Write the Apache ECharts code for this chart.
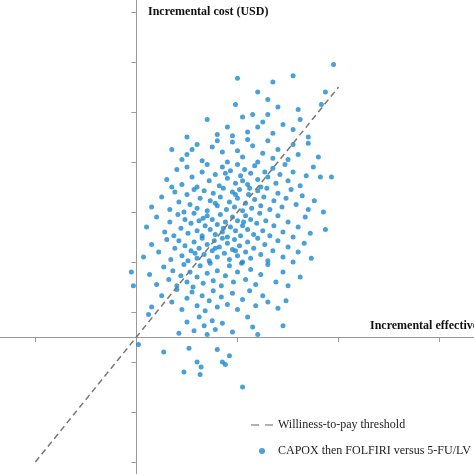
<!DOCTYPE html>
<html>
<head>
<meta charset="UTF-8">
<script src="https://cdn.jsdelivr.net/npm/echarts@6/dist/echarts.min.js"></script>
<style>html,body{margin:0;padding:0;background:#fff}#main{width:474px;height:474px}</style>
</head>
<body>
<div id="main"></div>
<script>
// tick labels
var xTicks = [-1, 0, 1, 2, 3];
var yTicks = [-5000, -3000, -1000, 1000, 3000, 5000, 7000, 9000, 11000, 13000];
// willingness-to-pay line (5000 USD per unit)
var wtpLine = [[-1, -5000], [2, 10000]];
// simulation points [incremental effect, incremental cost]
var simPoints = [
 [1.0,10350],[1.55,10450],[1.95,10900],[1.35,10200],[1.2,9800],[1.87,9800],[0.98,9300],[1.4,9200],[1.3,9500],[1.6,9100],[1.83,9300],
 [0.7,8700],[1.05,8800],[1.15,8900],[0.9,8400],[1.25,8600],[1.45,8500],[1.55,8300],[1.62,8700],[0.8,8100],[1.1,8200],[1.35,8150],[1.7,8000],[0.5,8000],[0.95,8050],[1.3,8900],[1.2,8400],
 [0.35,7500],[0.5,7300],[0.6,7700],[0.75,7600],[0.85,7400],[0.95,7800],[1.05,7200],[1.15,7650],[1.25,7350],[1.3,7850],[1.4,7500],[1.5,7100],[1.6,7300],[1.7,7750],[1.8,7200],[0.65,7050],[0.45,7100],[1.0,7450],[1.2,7000],[0.9,7000],[1.35,7150],[1.55,7700],[1.1,7900],[0.8,7850],[0.55,7500],
 [0.3,6300],[0.4,6700],[0.45,6100],[0.5,6800],[0.55,6400],[0.6,6000],[0.65,6600],[0.7,6900],[0.72,6250],[0.78,6500],[0.82,6050],[0.85,6800],[0.9,6350],[0.93,6650],[0.98,6150],[1.0,6900],[1.03,6450],[1.07,6700],[1.1,6100],[1.13,6550],[1.17,6850],[1.2,6300],[1.23,6000],[1.27,6600],[1.3,6400],[1.35,6750],[1.38,6150],[1.42,6500],[1.47,6900],[1.5,6250],[1.55,6600],[1.62,6050],[1.68,6450],[1.75,6800],[1.82,6400],[1.93,6400],[0.35,6000],[0.88,6550],[1.05,6250],
 [0.15,5200],[0.25,5600],[0.33,5100],[0.38,5800],[0.42,5400],[0.47,5000],[0.5,5700],[0.53,5300],[0.57,5900],[0.6,5150],[0.63,5550],[0.67,5850],[0.7,5050],[0.73,5450],[0.76,5750],[0.8,5250],[0.83,5600],[0.86,5950],[0.89,5100],[0.92,5400],[0.95,5800],[0.97,5200],[1.0,5550],[1.02,5900],[1.05,5050],[1.08,5350],[1.11,5700],[1.14,5150],[1.17,5500],[1.2,5850],[1.23,5250],[1.26,5600],[1.29,5950],[1.32,5100],[1.36,5450],[1.4,5750],[1.44,5200],[1.48,5550],[1.53,5900],[1.58,5300],[1.64,5650],[1.7,5100],[1.76,5450],[1.85,5000],[0.78,5350],[0.98,5700],[1.12,5950],
 [0.1,4400],[0.2,4800],[0.28,4200],[0.33,4600],[0.37,4050],[0.41,4900],[0.44,4350],[0.48,4700],[0.51,4150],[0.54,4550],[0.57,4950],[0.6,4250],[0.62,4650],[0.65,4050],[0.68,4450],[0.7,4850],[0.73,4300],[0.75,4700],[0.78,4100],[0.8,4500],[0.83,4900],[0.85,4200],[0.88,4600],[0.9,4000],[0.93,4400],[0.95,4800],[0.98,4250],[1.0,4650],[1.03,4050],[1.05,4450],[1.08,4850],[1.1,4300],[1.13,4700],[1.16,4100],[1.19,4550],[1.22,4950],[1.25,4250],[1.28,4650],[1.32,4050],[1.36,4450],[1.4,4850],[1.45,4200],[1.5,4600],[1.55,4000],[1.6,4400],[1.67,4800],[1.72,4150],[1.87,4300],[0.66,4750],[0.86,4350],[1.06,4600],
 [0.07,3200],[0.15,3700],[0.22,3400],[0.3,3900],[0.34,3100],[0.38,3550],[0.42,3850],[0.45,3250],[0.48,3650],[0.51,3050],[0.54,3450],[0.57,3800],[0.6,3150],[0.62,3550],[0.65,3950],[0.67,3300],[0.7,3700],[0.72,3050],[0.75,3450],[0.77,3850],[0.8,3200],[0.82,3600],[0.85,3950],[0.87,3350],[0.9,3750],[0.92,3100],[0.95,3500],[0.97,3900],[1.0,3250],[1.02,3650],[1.05,3000],[1.08,3400],[1.1,3800],[1.13,3150],[1.16,3550],[1.2,3950],[1.23,3300],[1.27,3700],[1.3,3050],[1.35,3450],[1.4,3850],[1.45,3200],[1.5,3600],[1.55,3000],[1.6,3400],[1.66,3750],[1.73,3150],[0.58,3350],[0.78,3550],[0.98,3450],
 [-0.05,2600],[-0.03,2050],[0.13,2500],[0.2,2100],[0.27,2800],[0.32,2300],[0.36,2650],[0.4,2050],[0.44,2450],[0.47,2900],[0.5,2200],[0.53,2600],[0.56,2000],[0.6,2400],[0.63,2850],[0.66,2150],[0.7,2550],[0.73,2950],[0.76,2250],[0.8,2650],[0.84,2050],[0.88,2450],[0.92,2850],[0.96,2200],[1.0,2600],[1.04,2950],[1.08,2300],[1.13,2700],[1.18,2100],[1.23,2500],[1.3,2900],[1.38,2200],[1.45,2600],[1.5,2050],[1.62,2400],
 [0.15,1200],[0.25,1650],[0.35,1400],[0.4,1900],[0.45,1100],[0.5,1550],[0.55,1800],[0.6,1250],[0.65,1650],[0.68,1050],[0.72,1450],[0.76,1850],[0.8,1200],[0.84,1600],[0.9,1300],[0.95,1750],[1.0,1100],[1.05,1500],[1.12,1850],[1.18,1250],[1.25,1650],[1.3,1400],[1.4,1150],[1.48,1450],
 [0.12,900],[0.42,150],[0.5,600],[0.57,250],[0.62,800],[0.67,450],[0.7,100],[0.75,650],[0.78,300],[0.85,550],[0.95,200],[1.1,800],[1.2,100],[1.45,450],[1.15,400],
 [0.02,-300],[0.27,-600],[0.52,-450],[0.8,-500],[0.85,-1000],[0.88,-1100],[0.92,-750],[0.6,-1000],[0.47,-1400],[0.64,-1200],[0.63,-1500],[1.05,-2000]
];

var font = '"Liberation Serif", "Times New Roman", serif';
var chart = echarts.init(document.getElementById('main'));
var option = {
  animation: false,
  textStyle: {fontFamily: font},
  grid: {left: 0, right: 0, top: 0, bottom: 0, outerBoundsMode: 'none', containLabel: false},
  xAxis: {
    type: 'value', min: -1.35, max: 3.34,
    splitLine: {show: false},
    axisLine: {onZero: true, lineStyle: {color: '#999'}},
    axisTick: {show: true, customValues: xTicks, length: 5, lineStyle: {color: '#999'}},
    axisLabel: {customValues: xTicks, color: '#222', fontSize: 11, fontFamily: font, margin: 8,
      formatter: function (v) { return v === 0 ? '0   ' : String(v); }}
  },
  yAxis: {
    type: 'value', min: -5480, max: 13480,
    splitLine: {show: false},
    axisLine: {onZero: true, lineStyle: {color: '#999'}},
    axisTick: {show: true, customValues: yTicks, length: 5, lineStyle: {color: '#999'}},
    axisLabel: {customValues: yTicks, color: '#222', fontSize: 11, fontFamily: font, margin: 8,
      formatter: function (v) { return Math.abs(v) >= 10000 ? v.toLocaleString('en-US') : String(v); }}
  },
  legend: {
    orient: 'vertical', left: 246, top: 414, itemGap: 14, itemWidth: 22, itemHeight: 6,
    textStyle: {fontFamily: font, fontSize: 12, color: '#222'},
    data: [
      {name: 'Williness-to-pay threshold', icon: 'path://M0,4H8V5H0ZM14,4H22V5H14Z', itemStyle: {color: '#666'}},
      {name: 'CAPOX then FOLFIRI versus 5-FU/LV', icon: 'circle'}
    ]
  },
  graphic: [
    {type: 'text', left: 148, top: 6, style: {text: 'Incremental cost (USD)', font: 'bold 12px ' + font, fill: '#111'}},
    {type: 'text', left: 370, top: 320, style: {text: 'Incremental effectiveness (LYG)', font: 'bold 12px ' + font, fill: '#111'}}
  ],
  series: [
    {name: 'Williness-to-pay threshold', type: 'line', data: wtpLine, showSymbol: false, silent: true,
      lineStyle: {color: '#777', width: 1.5, type: [6, 4]}, z: 3},
    {name: 'CAPOX then FOLFIRI versus 5-FU/LV', type: 'scatter', data: simPoints, symbolSize: 5,
      itemStyle: {color: '#1a8ad0'}, z: 2}
  ]
};
chart.setOption(option);
</script>
</body>
</html>
